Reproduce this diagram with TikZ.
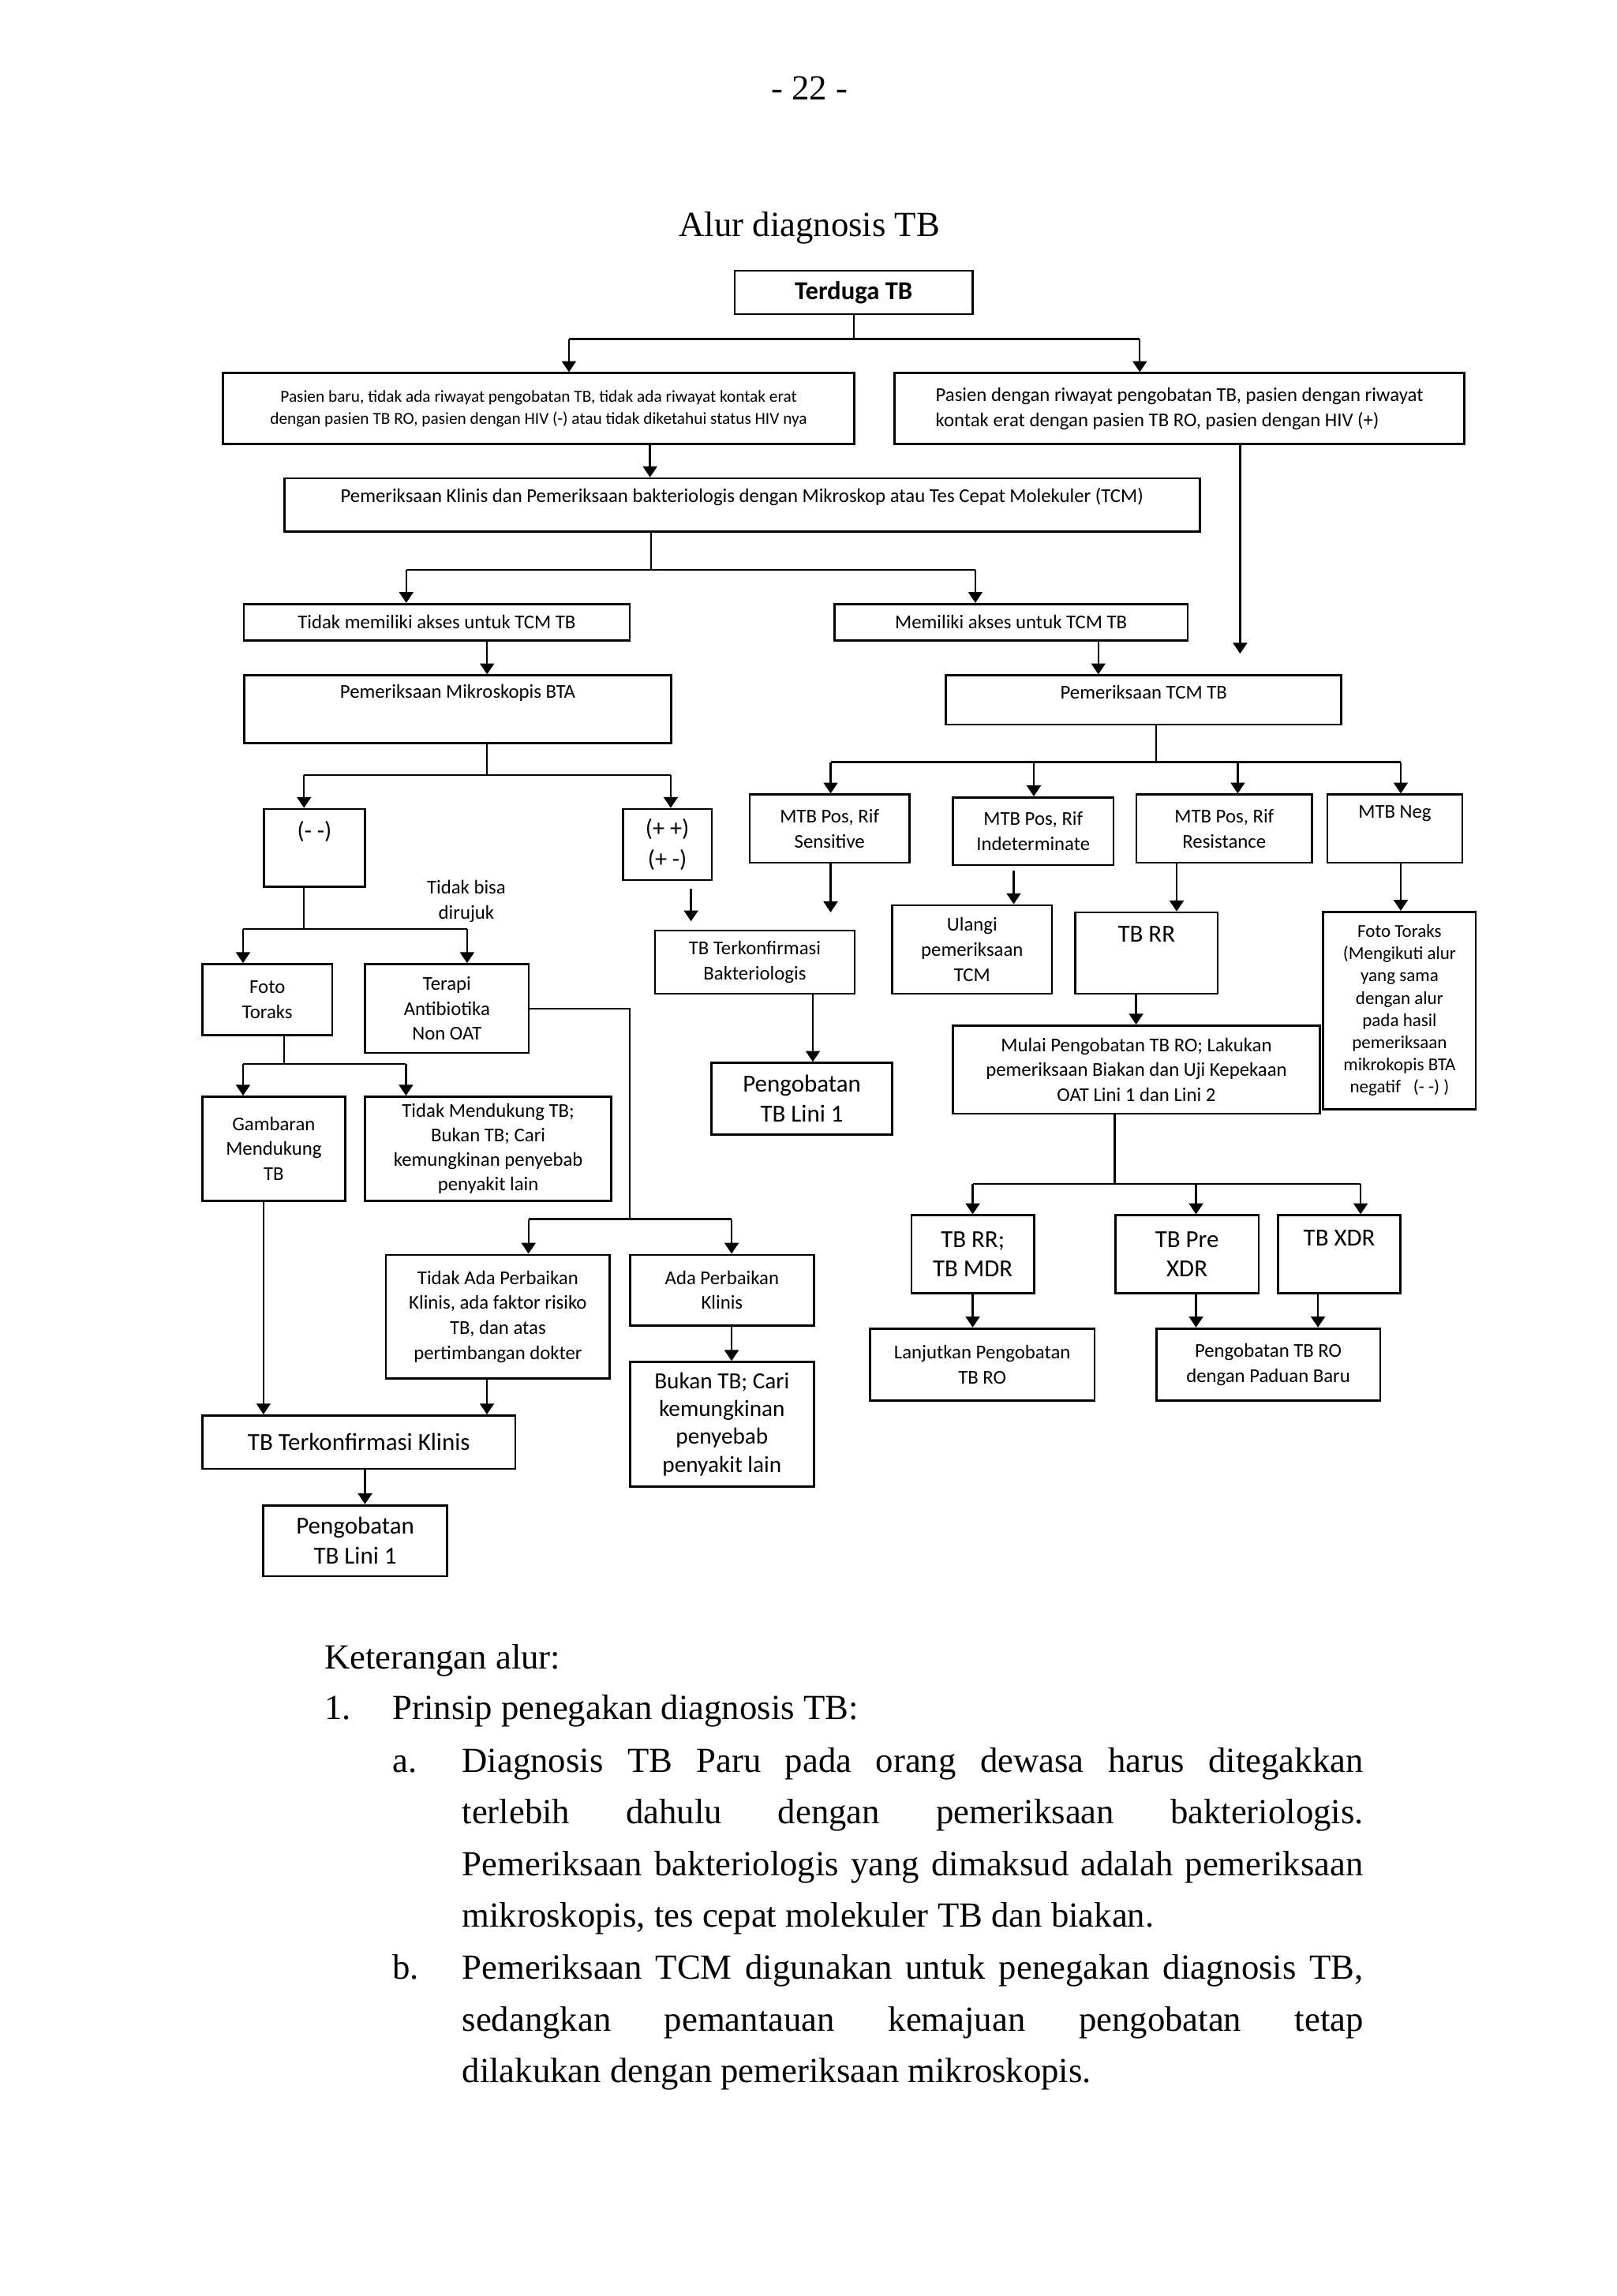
\documentclass[tikz,border=0pt]{standalone}
\usepackage{fontspec}
\setmainfont{Liberation Serif}
\newfontfamily\kotakfont{Carlito}
\usepackage{tikz}
\usetikzlibrary{arrows.meta}

\begin{document}
\begin{tikzpicture}[x=0.5413pt, y=-0.5413pt,
  isi/.style={font=\kotakfont\fontsize{7.2}{9.2}\selectfont},
  besar/.style={font=\kotakfont\fontsize{9}{11}\selectfont},
  kotak/.style={draw, line width=0.8pt, inner sep=0pt, align=center, isi},
  garis/.style={line width=0.7pt},
  panah/.style={garis, -{Triangle[length=4pt, width=5.2pt]}},
  halaman/.style={font=\fontsize{13}{19}\selectfont, inner sep=0pt}]
\useasboundingbox (0,0) rectangle (1100,1562.4);

\node[halaman] (hal) at (551,60) {- 22 -};
\node[halaman] (judul) at (551,155) {Alur diagnosis TB};
% ---
\node[kotak, minimum width=87.69pt, minimum height=16.02pt, font=\kotakfont\bfseries\fontsize{9.5}{11}\selectfont] (terduga) at (581,199) {Terduga TB};

\node[kotak, minimum width=232.43pt, minimum height=26.14pt, font=\kotakfont\fontsize{6.2}{8}\selectfont] (baru) at (366.6,278.05) {Pasien baru, tidak ada riwayat pengobatan TB, tidak ada riwayat kontak erat\\dengan pasien TB RO, pasien dengan HIV (-) atau tidak diketahui status HIV nya};
\node[kotak, minimum width=209.97pt, minimum height=26.14pt, align=left] (riwayat) at (802.75,278.05) {Pasien dengan riwayat pengobatan TB, pasien dengan riwayat\\kontak erat dengan pasien TB RO, pasien dengan HIV (+)};

\node[kotak, minimum width=337.23pt, minimum height=19.7pt, label={[isi, anchor=center, label distance=-7.2pt]north:Pemeriksaan Klinis dan Pemeriksaan bakteriologis dengan Mikroskop atau Tes Cepat Molekuler (TCM)}] (klinis) at (505,343.7) {};

\node[kotak, minimum width=142.2pt, minimum height=13.42pt] (tanpaakses) at (297.25,423.4) {Tidak memiliki akses untuk TCM TB};
\node[kotak, minimum width=130.13pt, minimum height=13.42pt] (akses) at (688.1,423.4) {Memiliki akses untuk TCM TB};

\node[kotak, minimum width=157.08pt, minimum height=24.95pt, label={[isi, anchor=center, label distance=-6.7pt]north:Pemeriksaan Mikroskopis BTA}] (bta) at (311.5,482.65) {};
\node[kotak, minimum width=145.56pt, minimum height=18.08pt, label={[isi, anchor=center, label distance=-6.7pt]north:Pemeriksaan TCM TB}] (tcm) at (778.35,476.3) {};
% --- mikroskopis
\node[kotak, minimum width=37.4pt, minimum height=28.69pt, label={[font=\kotakfont\fontsize{8.8}{11.5}\selectfont, anchor=center, label distance=-8.7pt]north:(- -)}] (negatif) at (214.05,577) {};
\node[kotak, minimum width=32.8pt, minimum height=26.14pt, font=\kotakfont\fontsize{8.8}{11.5}\selectfont] (positif) at (454.2,574.65) {(+ +)\\(+ -)};
\node[kotak, minimum width=73.51pt, minimum height=23.28pt] (bakterio) at (513.7,654.7) {TB Terkonfirmasi\\Bakteriologis};
\node[kotak, besar, minimum width=66.63pt, minimum height=26.36pt] (linisatu) at (545.75,747.65) {Pengobatan\\TB Lini 1};

\node[isi, align=center] (dirujuk) at (317.4,613.3) {Tidak bisa\\dirujuk};
\node[kotak, minimum width=47.8pt, minimum height=26.2pt] (foto) at (181.95,680.3) {Foto\\Toraks};
\node[kotak, minimum width=60.19pt, minimum height=32.69pt] (terapi) at (304.2,686.3) {Terapi\\Antibiotika\\Non OAT};
\node[kotak, minimum width=52.51pt, minimum height=38.27pt] (gambaran) at (186.3,781.65) {Gambaran\\Mendukung\\TB};
\node[kotak, minimum width=90.56pt, minimum height=38.27pt, font=\kotakfont\fontsize{7.2}{9}\selectfont] (tidakdukung) at (332.25,781.65) {Tidak Mendukung TB;\\Bukan TB; Cari\\kemungkinan penyebab\\penyakit lain};
\node[kotak, minimum width=82.55pt, minimum height=45.58pt] (tidakbaik) at (338.85,896) {Tidak Ada Perbaikan\\Klinis, ada faktor risiko\\TB, dan atas\\pertimbangan dokter};
\node[kotak, minimum width=67.83pt, minimum height=26.04pt] (baik) at (491.35,877.95) {Ada Perbaikan\\Klinis};
\node[kotak, minimum width=67.83pt, minimum height=45.79pt, font=\kotakfont\fontsize{8.5}{10.3}\selectfont] (bukantb) at (491.35,969.1) {Bukan TB; Cari\\kemungkinan\\penyebab\\penyakit lain};
\node[kotak, besar, minimum width=115.24pt, minimum height=19.65pt] (klinisTB) at (244.25,981.35) {TB Terkonfirmasi Klinis};
\node[kotak, besar, minimum width=67.61pt, minimum height=26.14pt] (linisatub) at (241.75,1048.45) {Pengobatan\\TB Lini 1};
% --- TCM
\node[kotak, minimum width=58.89pt, minimum height=25.06pt] (sensitif) at (564.6,563.85) {MTB Pos, Rif\\Sensitive};
\node[kotak, minimum width=59.11pt, minimum height=24.9pt] (indet) at (703.2,565.6) {MTB Pos, Rif\\Indeterminate};
\node[kotak, minimum width=64.74pt, minimum height=25.06pt] (resisten) at (833.2,563.85) {MTB Pos, Rif\\Resistance};
\node[kotak, minimum width=49.69pt, minimum height=25.06pt, label={[isi, anchor=center, label distance=-7.4pt]north:MTB Neg}] (mtbneg) at (949.3,563.85) {};

\node[kotak, minimum width=58.78pt, minimum height=32.59pt] (ulangi) at (661.6,646.1) {Ulangi\\pemeriksaan\\TCM};
\node[kotak, minimum width=52.4pt, minimum height=29.93pt, label={[besar, anchor=center, label distance=-8.4pt]north:TB RR}] (tbrr) at (780.3,648.55) {};
\node[kotak, minimum width=56.19pt, minimum height=72.64pt, font=\kotakfont\fontsize{6.7}{8.2}\selectfont] (fotob) at (952.5,687.6) {Foto Toraks\\(Mengikuti alur\\yang sama\\dengan alur\\pada hasil\\pemeriksaan\\mikrokopis BTA\\negatif\ \ \ (- -) )};
\node[kotak, minimum width=135.11pt, minimum height=32.42pt] (mulai) at (773.4,727.85) {Mulai Pengobatan TB RO; Lakukan\\pemeriksaan Biakan dan Uji Kepekaan\\OAT Lini 1 dan Lini 2};

\node[kotak, besar, minimum width=45.2pt, minimum height=28.69pt] (mdr) at (662.05,853.5) {TB RR;\\TB MDR};
\node[kotak, besar, minimum width=52.78pt, minimum height=28.69pt] (prexdr) at (807.85,853.5) {TB Pre\\XDR};
\node[kotak, minimum width=44.93pt, minimum height=28.69pt, label={[besar, anchor=center, label distance=-8.7pt]north:TB XDR}] (xdr) at (911.5,853.5) {};
\node[kotak, minimum width=82.82pt, minimum height=26.52pt] (lanjut) at (668.5,928.5) {Lanjutkan Pengobatan\\TB RO};
\node[kotak, minimum width=82.44pt, minimum height=26.52pt] (paduan) at (863.15,928.5) {Pengobatan TB RO\\dengan Paduan Baru};

% --- connectors
\coordinate (kBaru) at (387.2,230.7);
\coordinate (kRiwayat) at (775.7,230.7);
\draw[garis] (terduga.south) -- (terduga.south |- kBaru);
\draw[garis] (kBaru) -- (kRiwayat);
\draw[panah] (kBaru) -- (kBaru |- baru.north);
\draw[panah] (kRiwayat) -- (kRiwayat |- riwayat.north);

\coordinate (kBK) at (442.4,0);
\draw[panah] (baru.south -| kBK) -- (klinis.north -| kBK);
\coordinate (kRT) at (844,0);
\draw[panah, shorten >=7.6pt] (riwayat.south -| kRT) -- (tcm.north -| kRT);

\coordinate (kKlinis) at (443,387.9);
\coordinate (kTanpa) at (276.5,387.9);
\coordinate (kAkses) at (663.8,387.9);
\draw[garis] (klinis.south -| kKlinis) -- (kKlinis);
\draw[garis] (kTanpa) -- (kAkses);
\draw[panah] (kTanpa) -- (kTanpa |- tanpaakses.north);
\draw[panah] (kAkses) -- (kAkses |- akses.north);

\coordinate (kTB) at (331.5,0);
\draw[panah] (tanpaakses.south -| kTB) -- (bta.north -| kTB);
\coordinate (kAT) at (747.5,0);
\draw[panah] (akses.south -| kAT) -- (tcm.north -| kAT);
% ---
\coordinate (kBta) at (331.5,527.4);
\coordinate (kNeg) at (206.9,527.4);
\coordinate (kPos) at (456.5,527.4);
\draw[garis] (bta.south -| kBta) -- (kBta);
\draw[garis] (kNeg) -- (kPos);
\draw[panah] (kNeg) -- (kNeg |- negatif.north);
\draw[panah] (kPos) -- (kPos |- positif.north);

\coordinate (kPB) at (470.3,0);
\draw[panah, shorten <=2.9pt, shorten >=3pt] (positif.south -| kPB) -- (bakterio.north -| kPB);
\coordinate (kBL) at (553.2,0);
\draw[panah] (bakterio.south -| kBL) -- (linisatu.north -| kBL);

\coordinate (kNegatif) at (206.9,632.2);
\coordinate (kFoto) at (165.4,632.2);
\coordinate (kTerapi) at (317.9,632.2);
\draw[garis] (negatif.south -| kNegatif) -- (kNegatif);
\draw[garis] (kFoto) -- (kTerapi);
\draw[panah] (kFoto) -- (kFoto |- foto.north);
\draw[panah] (kTerapi) -- (kTerapi |- terapi.north);

\coordinate (kFotoB) at (193.3,723.9);
\coordinate (kGambar) at (165.4,723.9);
\coordinate (kTidak) at (276.3,723.9);
\draw[garis] (foto.south -| kFotoB) -- (kFotoB);
\draw[garis] (kGambar) -- (kTidak);
\draw[panah] (kGambar) -- (kGambar |- gambaran.north);
\draw[panah] (kTidak) -- (kTidak |- tidakdukung.north);

\coordinate (kTerapiB) at (428.6,829.6);
\coordinate (kTidakBaik) at (359.7,829.6);
\coordinate (kBaik) at (497.9,829.6);
\draw[garis] (terapi.east) -| (kTerapiB);
\draw[garis] (kTidakBaik) -- (kBaik);
\draw[panah] (kTidakBaik) -- (kTidakBaik |- tidakbaik.north);
\draw[panah] (kBaik) -- (kBaik |- baik.north);
\draw[panah] (baik.south -| kBaik) -- (bukantb.north -| kBaik);

\coordinate (kGK) at (179.3,0);
\draw[panah] (gambaran.south -| kGK) -- (klinisTB.north -| kGK);
\coordinate (kTK) at (331.4,0);
\draw[panah] (tidakbaik.south -| kTK) -- (klinisTB.north -| kTK);
\coordinate (kKL) at (248.4,0);
\draw[panah] (klinisTB.south -| kKL) -- (linisatub.north -| kKL);
% --- TCM
\coordinate (kTcm) at (786.8,518.6);
\coordinate (kSens) at (565.3,518.6);
\coordinate (kIndet) at (703.6,518.6);
\coordinate (kRes) at (842.4,518.6);
\coordinate (kNegB) at (953.3,518.6);
\draw[garis] (tcm.south -| kTcm) -- (kTcm);
\draw[garis] (kSens) -- (kNegB);
\draw[panah] (kSens) -- (kSens |- sensitif.north);
\draw[panah] (kIndet) -- (kIndet |- indet.north);
\draw[panah] (kRes) -- (kRes |- resisten.north);
\draw[panah] (kNegB) -- (kNegB |- mtbneg.north);

\draw[panah, shorten >=6.3pt] (sensitif.south -| kSens) -- (bakterio.north -| kSens);
\coordinate (kIU) at (689.9,0);
\draw[panah, shorten <=1.7pt] (indet.south -| kIU) -- (ulangi.north -| kIU);
\coordinate (kRR) at (800.8,0);
\draw[panah] (resisten.south -| kRR) -- (tbrr.north -| kRR);
\draw[panah] (mtbneg.south -| kNegB) -- (fotob.north -| kNegB);
\coordinate (kRM) at (773.2,0);
\draw[panah] (tbrr.south -| kRM) -- (mulai.north -| kRM);

\coordinate (kMulai) at (758.7,805.6);
\coordinate (kMdr) at (662,805.6);
\coordinate (kPre) at (814,805.6);
\coordinate (kXdr) at (926,805.6);
\draw[garis] (mulai.south -| kMulai) -- (kMulai);
\draw[garis] (kMdr) -- (kXdr);
\draw[panah] (kMdr) -- (kMdr |- mdr.north);
\draw[panah] (kPre) -- (kPre |- prexdr.north);
\draw[panah] (kXdr) -- (kXdr |- xdr.north);
\draw[panah] (mdr.south -| kMdr) -- (lanjut.north -| kMdr);
\draw[panah] (prexdr.south -| kPre) -- (paduan.north -| kPre);
\coordinate (kXP) at (897,0);
\draw[panah] (xdr.south -| kXP) -- (paduan.north -| kXP);

% --- keterangan
\node[halaman, anchor=base west] (ket) at (220.4,1135.7) {Keterangan alur:};
\node[halaman, anchor=base west] (nomor) at (220.4,1170) {1.};
\node[halaman, anchor=base west] (prinsip) at (266.9,1170) {Prinsip penegakan diagnosis TB:};
\node[halaman, anchor=base west] (hurufa) at (266.9,1206.1) {a.};
\node[halaman, anchor=base west, text width=332pt, align=justify] (paraa) at (314.2,1206.1) {\tolerance=10000 \hyphenpenalty=10000 Diagnosis TB Paru pada orang dewasa harus ditegakkan\linebreak terlebih dahulu dengan pemeriksaan bakteriologis.\linebreak Pemeriksaan bakteriologis yang dimaksud adalah pemeriksaan\linebreak mikroskopis, tes cepat molekuler TB dan biakan.};
\node[halaman, anchor=base west] (hurufb) at (266.9,1347) {b.};
\node[halaman, anchor=base west, text width=332pt, align=justify] (parab) at (314.2,1347) {\tolerance=10000 \hyphenpenalty=10000 Pemeriksaan TCM digunakan untuk penegakan diagnosis TB,\linebreak sedangkan pemantauan kemajuan pengobatan tetap\linebreak dilakukan dengan pemeriksaan mikroskopis.};

\end{tikzpicture}
\end{document}
